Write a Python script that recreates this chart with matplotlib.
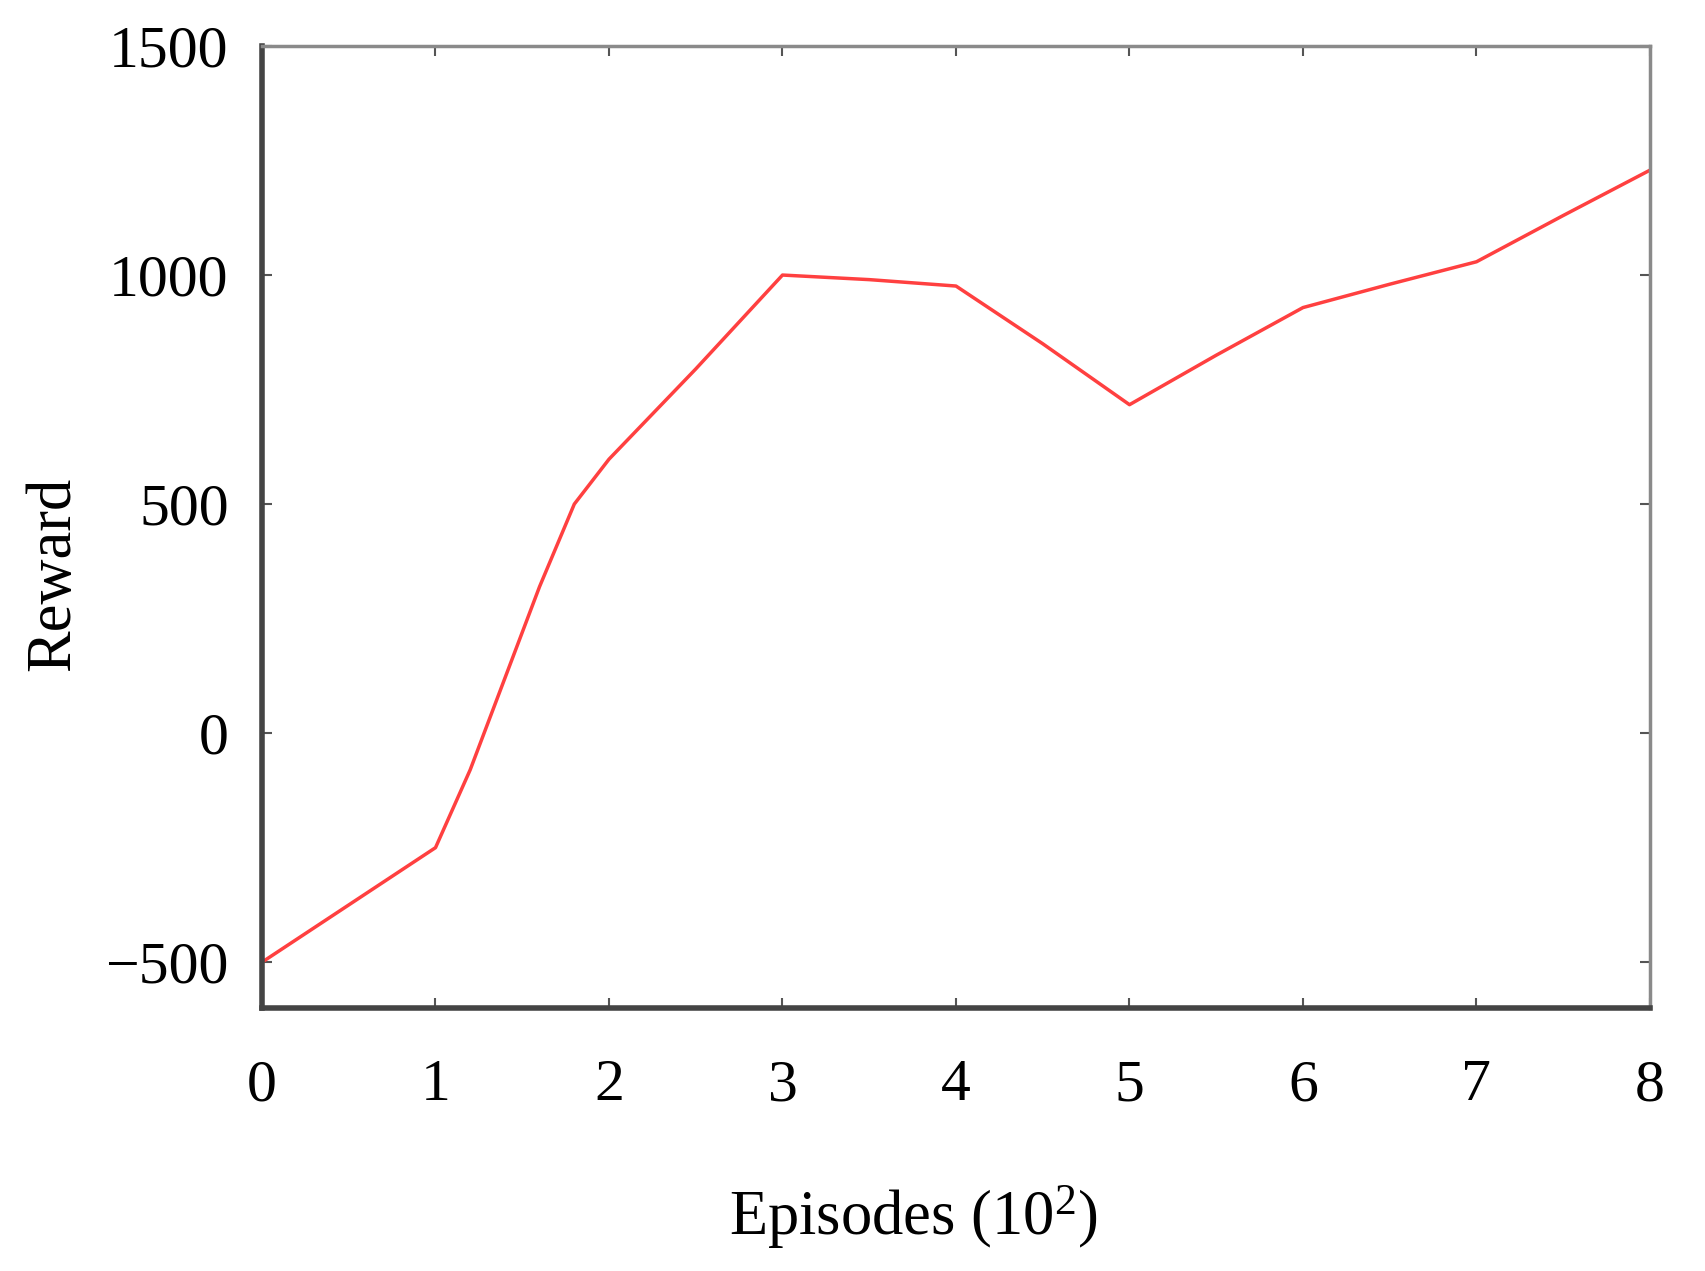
import numpy as np
import matplotlib.pyplot as plt

# reward curve (episodes in units of 10^2)
episodes = [0, 0.5, 1.0, 1.2, 1.4, 1.6, 1.8, 2.0, 2.5, 3.0, 3.5, 4.0, 4.5, 5.0, 5.5, 6.0, 6.5, 7.0, 7.5, 8.0]
reward = [-500, -375, -250, -80, 120, 320, 500, 598, 795, 1000, 990, 976, 850, 717, 825, 929, 980, 1029, 1130, 1229]

x_ticks = [0, 1, 2, 3, 4, 5, 6, 7, 8]
y_ticks = [-500, 0, 500, 1000, 1500]

plt.rcParams['font.family'] = ['Liberation Serif', 'DejaVu Serif']
plt.rcParams['mathtext.fontset'] = 'custom'
plt.rcParams['mathtext.rm'] = 'Liberation Serif'
plt.rcParams['mathtext.default'] = 'regular'

fig = plt.figure(figsize=(17.06, 12.71), dpi=100)
left, right, top, bottom = 262, 1650, 46, 1008
ax = fig.add_axes([left / 1706, 1 - bottom / 1271, (right - left) / 1706, (bottom - top) / 1271])

ax.plot(episodes, reward, color='#ff4040', linewidth=2.5)

ax.set_xlim(0, 8)
ax.set_ylim(-600, 1500)
ax.set_xticks(x_ticks)
ax.set_yticks(y_ticks)
ax.tick_params(direction='in', length=7, width=1.5, color='#555555',
               top=True, right=True, labelsize=43)
ax.tick_params(axis='y', pad=24)
ax.tick_params(axis='x', pad=37)

for side in ['left', 'bottom']:
    ax.spines[side].set_linewidth(4)
    ax.spines[side].set_color('#444444')
for side in ['top', 'right']:
    ax.spines[side].set_linewidth(2.5)
    ax.spines[side].set_color('#8a8a8a')

ax.set_xlabel('Episodes (10$^2$)', fontsize=45)
ax.set_ylabel('Reward', fontsize=45)
ax.xaxis.set_label_coords(0.469, -0.182)
ax.yaxis.set_label_coords(-0.129, 0.451)

fig.savefig('out.png', dpi=100)
